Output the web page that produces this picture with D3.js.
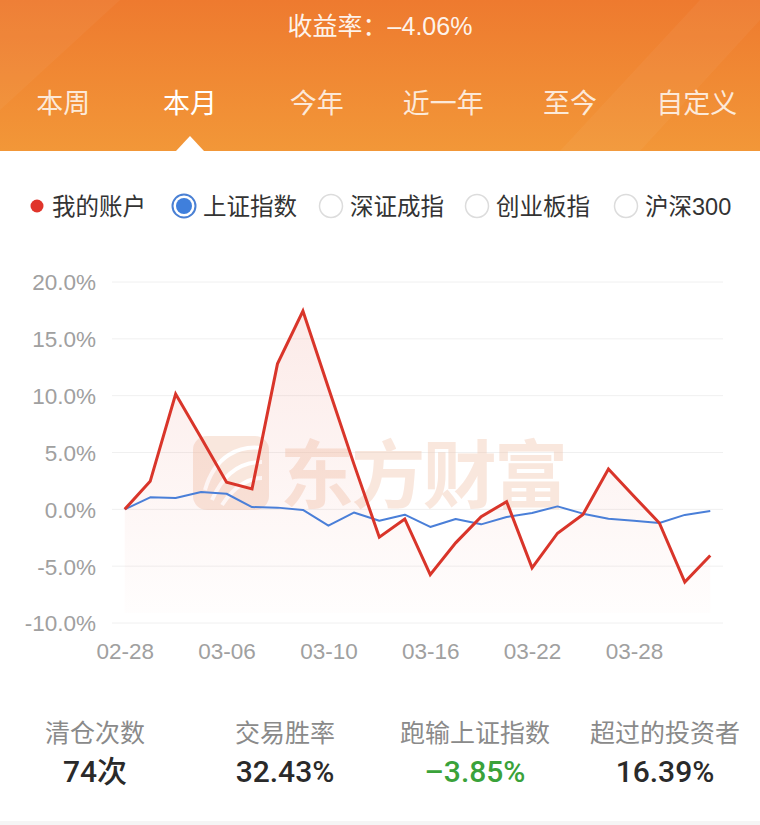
<!DOCTYPE html>
<html>
<head>
<meta charset="utf-8">
<script src="https://cdn.jsdelivr.net/npm/d3@7"></script>
<style>
  html, body { margin: 0; padding: 0; background: #fff; }
  svg { display: block; font-family: "Liberation Sans", "Noto Sans CJK SC", sans-serif; }
</style>
</head>
<body>
<div id="chart"></div>
<script>
// chart data
const dates = ["02-28","03-01","03-02","03-03","03-06","03-07","03-08","03-09","03-10","03-13",
  "03-14","03-15","03-16","03-17","03-20","03-21","03-22","03-23","03-24","03-27",
  "03-28","03-29","03-30","03-31"];
const account = [0, 2.46, 10.15, 6.3, 2.38, 1.8, 12.8, 17.45, 10.7, 4.0,
  -2.45, -0.85, -5.75, -2.95, -0.65, 0.68, -5.15, -2.1, -0.45, 3.55,
  1.15, -1.2, -6.4, -4.06];
const shIndex = [0, 1.06, 1.0, 1.53, 1.37, 0.2, 0.15, -0.05, -1.44, -0.28,
  -1.0, -0.47, -1.55, -0.85, -1.32, -0.67, -0.32, 0.26, -0.38, -0.82,
  -1.0, -1.2, -0.49, -0.14];
const yTicks = [-10, -5, 0, 5, 10, 15, 20];
const xTickDates = ["02-28","03-06","03-10","03-16","03-22","03-28"];

const tabs = ["本周","本月","今年","近一年","至今","自定义"];
const legendItems = ["我的账户","上证指数","深证成指","创业板指","沪深300"];
const statLabels = ["清仓次数","交易胜率","跑输上证指数","超过的投资者"];
const statValues = ["74次","32.43%","–3.85%","16.39%"];

const W = 760, H = 825;
const svg = d3.select("#chart").append("svg")
  .attr("width", W).attr("height", H);

const defs = svg.append("defs");
const hg = defs.append("linearGradient").attr("id", "hdr")
  .attr("x1", 0).attr("y1", 0).attr("x2", 0).attr("y2", 1);
hg.append("stop").attr("offset", "0%").attr("stop-color", "#ee7a2f");
hg.append("stop").attr("offset", "100%").attr("stop-color", "#f29738");

const ag = defs.append("linearGradient").attr("id", "area")
  .attr("x1", 0).attr("y1", 0).attr("x2", 0).attr("y2", 1);
ag.append("stop").attr("offset", "0%").attr("stop-color", "#e5533f").attr("stop-opacity", 0.12);
ag.append("stop").attr("offset", "100%").attr("stop-color", "#e5533f").attr("stop-opacity", 0.01);

// header
svg.append("rect").attr("width", W).attr("height", 151).attr("fill", "url(#hdr)");
svg.append("path").attr("d", "M0,0 L120,0 L0,110 Z").attr("fill", "#fff").attr("opacity", 0.04);
svg.append("path").attr("d", "M560,151 L700,0 L760,0 L760,20 L640,151 Z").attr("fill", "#fff").attr("opacity", 0.04);
svg.append("path").attr("d", "M176,151 L190,136 L204,151 Z").attr("fill", "#fff");

svg.append("text").attr("x", 380).attr("y", 35)
  .attr("text-anchor", "middle").attr("fill", "#fff").attr("fill-opacity", 0.92)
  .style("font-size", "25px").text("收益率：–4.06%");

const tabW = W / tabs.length;
svg.append("g").selectAll("text").data(tabs).join("text")
  .attr("x", (d, i) => (i + 0.5) * tabW)
  .attr("y", 113)
  .attr("text-anchor", "middle")
  .attr("fill", "#fff")
  .attr("fill-opacity", (d, i) => i === 1 ? 1 : 0.82)
  .style("font-size", "27px")
  .text(d => d);

// legend
const legX = [37, 184, 331, 477, 626];
const leg = svg.append("g").attr("transform", "translate(0,206)");
legendItems.forEach((name, i) => {
  const g = leg.append("g").attr("transform", `translate(${legX[i]},0)`);
  if (i === 0) {
    g.append("circle").attr("r", 6.5).attr("fill", "#e0352b");
  } else if (i === 1) {
    g.append("circle").attr("r", 11.5).attr("fill", "#fff").attr("stroke", "#4a80d4").attr("stroke-width", 2);
    g.append("circle").attr("r", 8).attr("fill", "#3f7fdc");
  } else {
    g.append("circle").attr("r", 11.5).attr("fill", "#fff").attr("stroke", "#dcdcdc").attr("stroke-width", 1.5);
  }
  g.append("text").attr("x", i === 0 ? 15 : 19).attr("y", 8.5)
    .attr("fill", "#333").style("font-size", "23.5px").text(name);
});

// chart
const x = d3.scalePoint().domain(dates).range([112, 723]).padding(0.5);
const y = d3.scaleLinear().domain([-10, 20]).range([623, 282]);

const grid = svg.append("g");
grid.selectAll("line").data(yTicks).join("line")
  .attr("x1", 112).attr("x2", 723)
  .attr("y1", d => y(d)).attr("y2", d => y(d))
  .attr("stroke", "#f0f0f0").attr("stroke-width", 1);

const yAxis = svg.append("g").attr("transform", "translate(96,0)")
  .call(d3.axisLeft(y).tickValues(yTicks).tickSize(0).tickPadding(0)
    .tickFormat(d => d.toFixed(1) + "%"));
yAxis.select(".domain").remove();
yAxis.selectAll("text").attr("fill", "#a0a0a0").style("font-size", "22.5px")
  .style("font-family", "\"Liberation Sans\", sans-serif").attr("dy", "0.35em");

const xAxis = svg.append("g").attr("transform", "translate(0,639)")
  .call(d3.axisBottom(x).tickValues(xTickDates).tickSize(0).tickPadding(0));
xAxis.select(".domain").remove();
xAxis.selectAll("text").attr("fill", "#a0a0a0").style("font-size", "22.5px")
  .style("font-family", "\"Liberation Sans\", sans-serif").attr("dy", "0.9em");

// watermark
const wm = svg.append("g").attr("opacity", 0.4);
wm.append("rect").attr("x", 193).attr("y", 436).attr("width", 76).attr("height", 74).attr("rx", 14)
  .attr("fill", "#f2c4ac");
wm.append("path").attr("d", "M205,490 C215,455 240,445 262,448").attr("fill", "none").attr("stroke", "#fff").attr("stroke-width", 4);
wm.append("path").attr("d", "M212,500 C225,470 245,462 262,462").attr("fill", "none").attr("stroke", "#fff").attr("stroke-width", 4);
wm.append("path").attr("d", "M222,505 C235,485 250,478 262,478").attr("fill", "none").attr("stroke", "#fff").attr("stroke-width", 4);
wm.append("text").attr("x", 280).attr("y", 502)
  .attr("fill", "#f2c4ac").style("font-size", "74px").style("font-weight", "bold")
  .style("font-family", "\"Noto Sans CJK SC\", sans-serif")
  .attr("textLength", 288)
  .text("东方财富");

// area under my account
const area = d3.area()
  .x((d, i) => x(dates[i]))
  .y0(y(-10) - 10)
  .y1(d => y(d));
svg.append("path").datum(account).attr("d", area).attr("fill", "url(#area)");

const line = d3.line().x((d, i) => x(dates[i])).y(d => y(d));
svg.append("path").datum(shIndex).attr("d", line)
  .attr("fill", "none").attr("stroke", "#4a7fd8").attr("stroke-width", 2)
  .attr("stroke-linejoin", "round");
svg.append("path").datum(account).attr("d", line)
  .attr("fill", "none").attr("stroke", "#d9352a").attr("stroke-width", 3)
  .attr("stroke-linejoin", "miter");

// bottom stats
const colW = W / statLabels.length;
const stats = svg.append("g");
stats.selectAll("text.lbl").data(statLabels).join("text").attr("class", "lbl")
  .attr("x", (d, i) => (i + 0.5) * colW).attr("y", 742)
  .attr("text-anchor", "middle").attr("fill", "#8a8a8a")
  .style("font-size", "25px").text(d => d);
stats.selectAll("text.val").data(statValues).join("text").attr("class", "val")
  .attr("x", (d, i) => (i + 0.5) * colW).attr("y", 782)
  .attr("text-anchor", "middle")
  .attr("fill", (d, i) => i === 2 ? "#3aa23a" : "#2a2a2a")
  .style("font-size", "30px").style("font-weight", "500")
  .style("font-family", "Roboto, \"Noto Sans CJK SC\", sans-serif")
  .text(d => d);

svg.append("rect").attr("x", 0).attr("y", 821).attr("width", W).attr("height", 4).attr("fill", "#f5f5f5");
</script>
</body>
</html>
